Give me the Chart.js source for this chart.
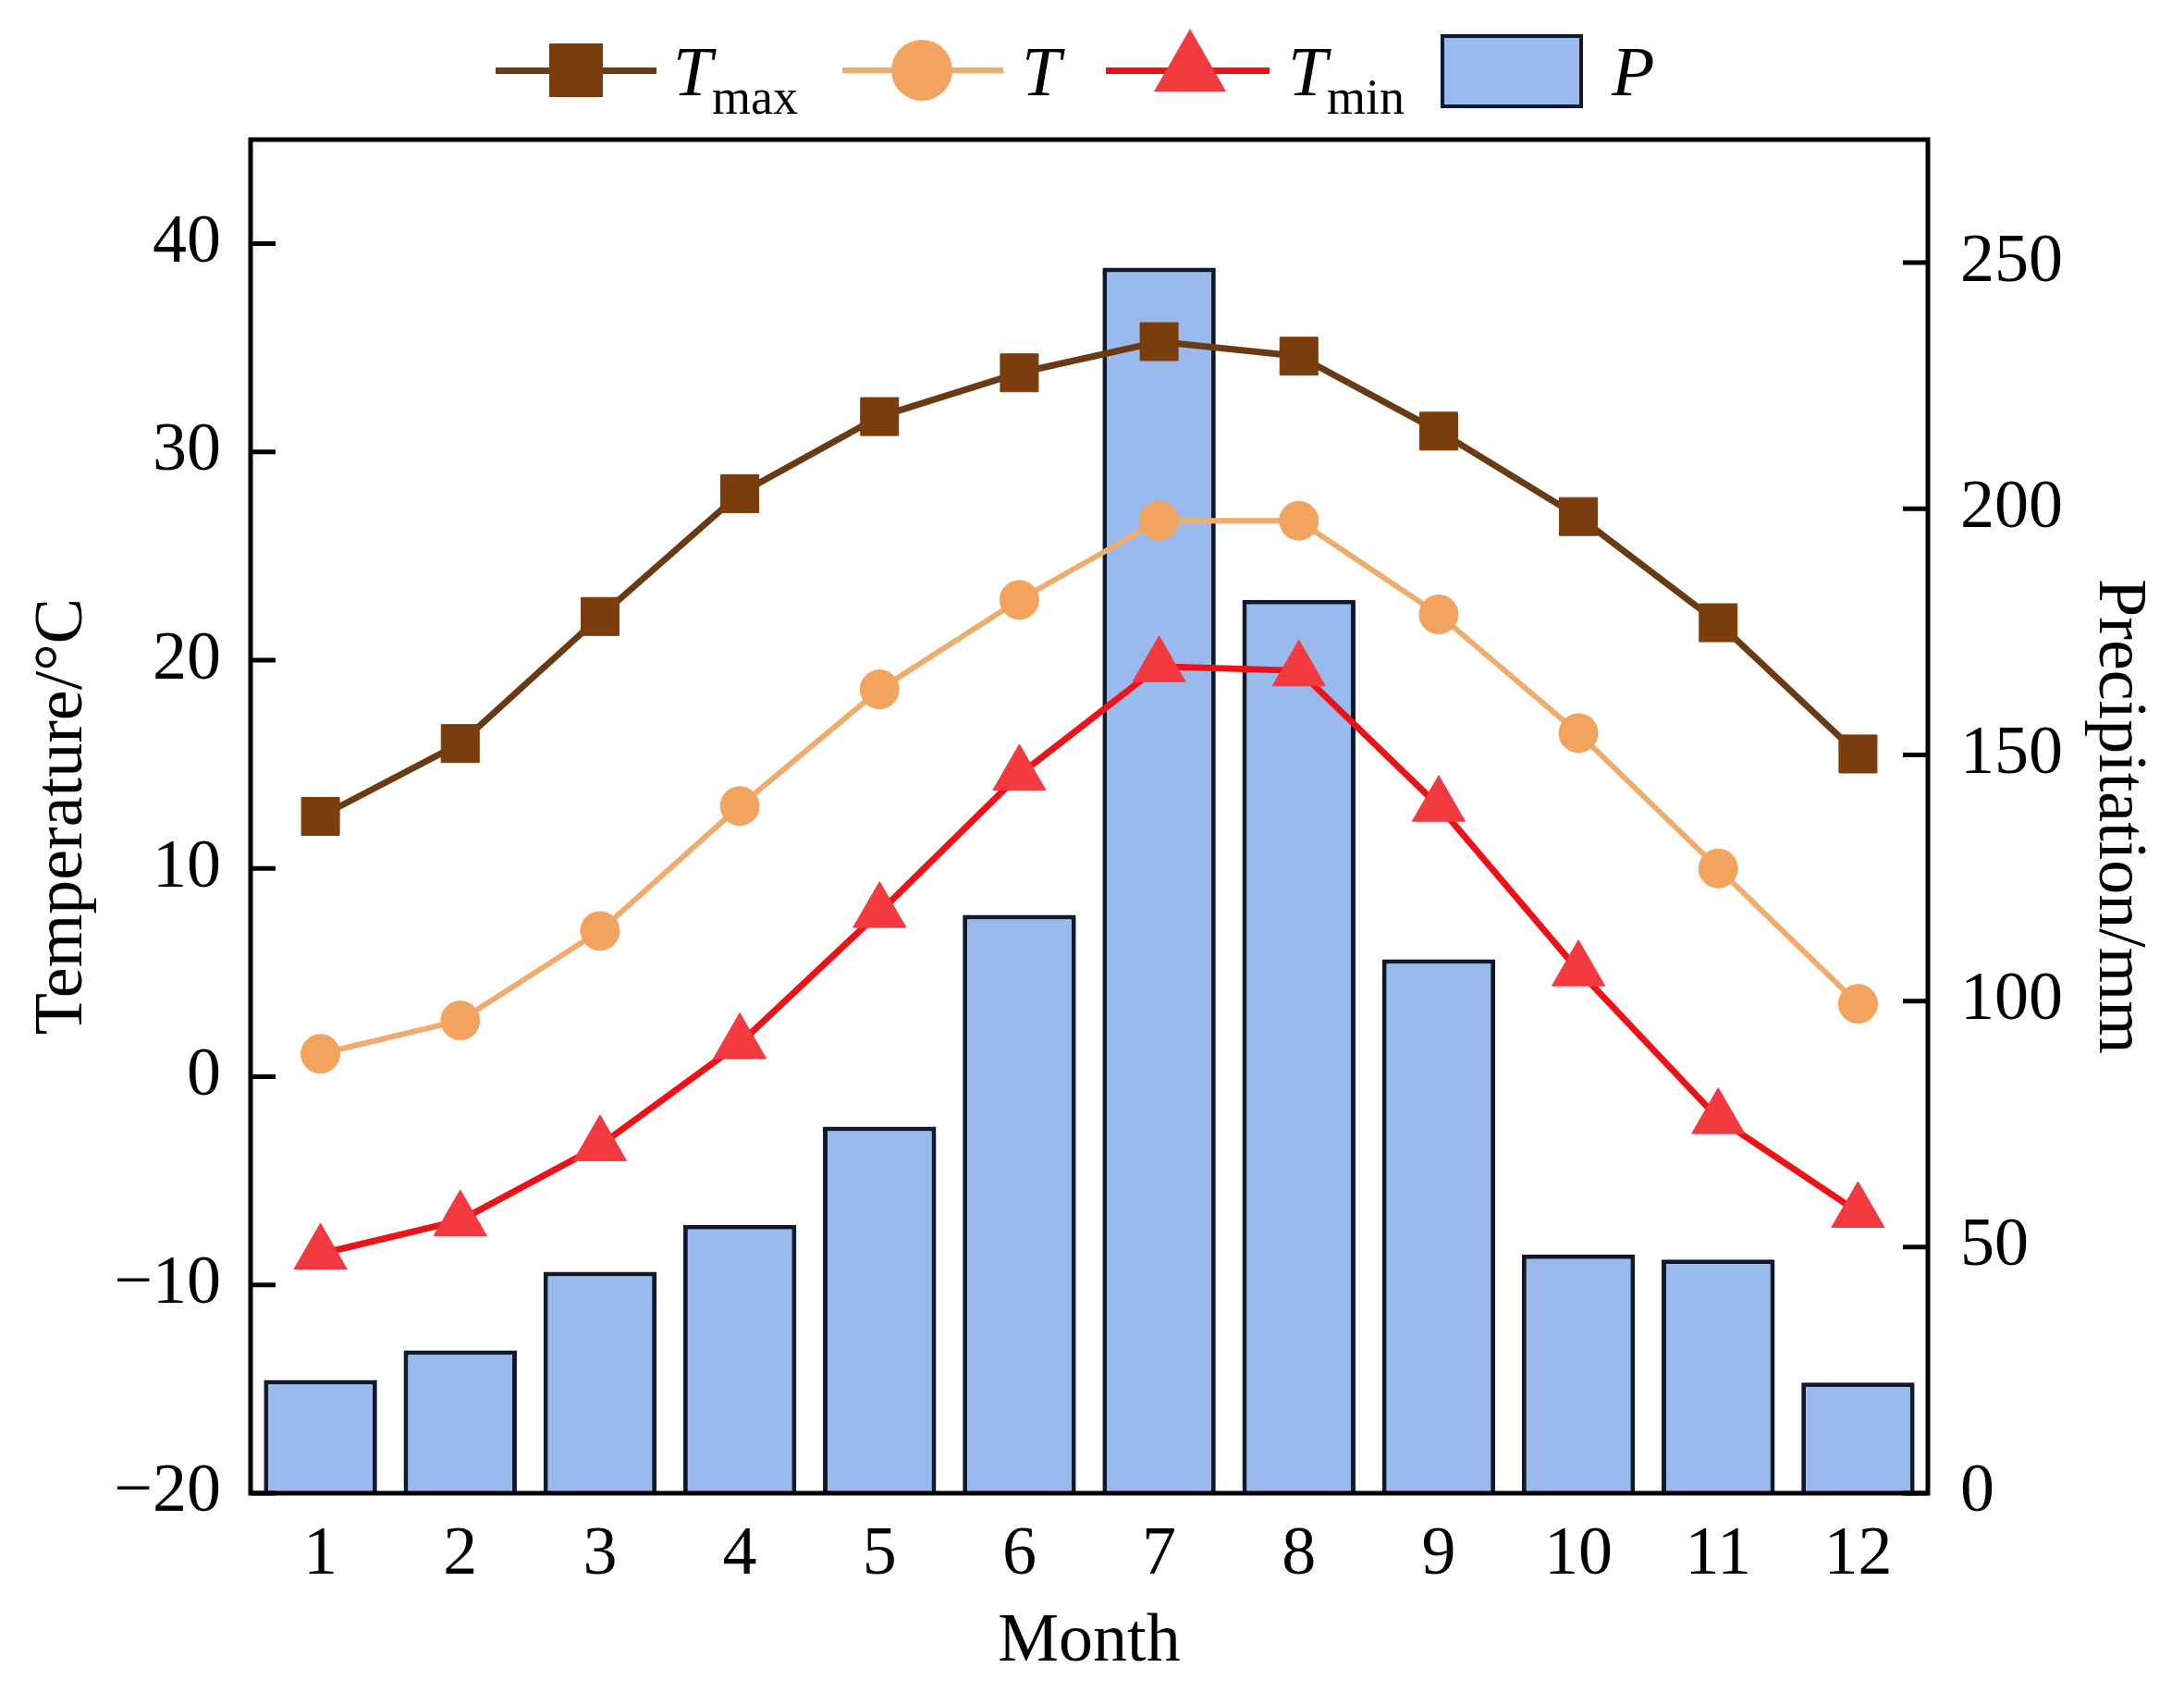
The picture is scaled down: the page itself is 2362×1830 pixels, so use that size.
<!DOCTYPE html>
<html><head><meta charset="utf-8">
<script src="https://cdn.jsdelivr.net/npm/chart.js@4.4.1/dist/chart.umd.min.js"></script>
<style>
html,body{margin:0;padding:0;background:#fff;}
#wrap{position:relative;width:2362px;height:1830px;background:#fff;}
#legend{position:absolute;left:0;top:0;width:2362px;height:150px;font-family:'Liberation Serif','Times New Roman',serif;color:#000;}
.lg{position:absolute;box-sizing:border-box;}
.txt{position:absolute;white-space:nowrap;line-height:1;}
</style></head><body>
<div id="wrap"><canvas id="c" width="2362" height="1830"></canvas><div id="legend"></div></div>
<script>
// ---- data ----
const months = ['1','2','3','4','5','6','7','8','9','10','11','12'];
const tmax   = [12.5, 16.0, 22.1, 28.0, 31.7, 33.8, 35.3, 34.6, 31.0, 26.9, 21.8, 15.5];
const tmean  = [1.1, 2.7, 7.0, 13.0, 18.6, 22.9, 26.7, 26.7, 22.2, 16.5, 10.0, 3.5];
const tmin   = [-8.5, -6.9, -3.3, 1.6, 7.9, 14.5, 19.7, 19.5, 13.0, 5.1, -2.0, -6.5];
const precip = [23, 29, 45, 54.5, 74.5, 117.5, 249, 181.5, 108.5, 48.5, 47.5, 22.5];
const tempTicks = [-20, -10, 0, 10, 20, 30, 40];
const precipTicks = [0, 50, 100, 150, 200, 250];

const FONT = "'Liberation Serif','Times New Roman',serif";
const C_TMAX_LINE = '#6A3A12', C_TMAX = '#7A3D0B';
const C_T_LINE = '#F0AC6C', C_T = '#F2A35E';
const C_TMIN_LINE = '#EE1218', C_TMIN = '#F23A40';
const C_BAR = '#9ABAEE', C_BAR_BORDER = '#0F1A2E';

Chart.defaults.font.family = FONT;
Chart.defaults.color = '#000';

const frame = {
  id: 'frame',
  afterDatasetsDraw(chart) {
    const {ctx, chartArea: a, scales} = chart;
    ctx.save();
    ctx.strokeStyle = '#000';
    ctx.lineWidth = 5;
    ctx.lineCap = 'butt';
    const tl = 27;
    ctx.beginPath();
    scales.y.ticks.forEach(t => {
      const p = scales.y.getPixelForValue(t.value);
      ctx.moveTo(a.left, p); ctx.lineTo(a.left + tl, p);
    });
    scales.y1.ticks.forEach(t => {
      const p = scales.y1.getPixelForValue(t.value);
      ctx.moveTo(a.right, p); ctx.lineTo(a.right - tl, p);
    });
    ctx.stroke();
    ctx.strokeRect(a.left, a.top, a.right - a.left, a.bottom - a.top);
    ctx.restore();
  }
};

const minus = v => String(v).replace('-', '\u2212');

new Chart(document.getElementById('c'), {
  type: 'bar',
  data: {
    labels: months,
    datasets: [
      {type:'line', label:'Tmax', data:tmax, yAxisID:'y', borderColor:C_TMAX_LINE, borderWidth:7,
       pointStyle:'rect', pointRadius:29, pointBackgroundColor:C_TMAX, pointBorderColor:C_TMAX, pointBorderWidth:1, tension:0, order:1},
      {type:'line', label:'T', data:tmean, yAxisID:'y', borderColor:C_T_LINE, borderWidth:6,
       pointStyle:'circle', pointRadius:21, pointBackgroundColor:C_T, pointBorderColor:C_T, pointBorderWidth:1, tension:0, order:2},
      {type:'line', label:'Tmin', data:tmin, yAxisID:'y', borderColor:C_TMIN_LINE, borderWidth:7,
       pointStyle:'triangle', pointRadius:33, pointBackgroundColor:C_TMIN, pointBorderColor:C_TMIN, pointBorderWidth:1, tension:0, order:3},
      {type:'bar', label:'P', data:precip, yAxisID:'y1', backgroundColor:C_BAR, borderColor:C_BAR_BORDER,
       borderWidth:5, barPercentage:0.81, categoryPercentage:1, order:10}
    ]
  },
  options: {
    responsive:false, devicePixelRatio:1, animation:false,
    layout:{padding:{top:151,left:0,right:0,bottom:0}},
    plugins:{legend:{display:false}, tooltip:{enabled:false}},
    scales: {
      x: {
        position:'bottom', offset:true,
        grid:{display:false, drawTicks:false}, border:{display:false},
        ticks:{padding:23, font:{size:74}, maxRotation:0},
        title:{display:true, text:'Month', font:{size:74}, padding:{top:0,bottom:9}},
        afterFit(s){ s.height = 215; }
      },
      y: {
        position:'left', min:-20, max:45,
        afterBuildTicks(s){ s.ticks = tempTicks.map(v => ({value:v})); },
        grid:{display:false, drawTicks:false}, border:{display:false},
        ticks:{padding:32, font:{size:74}, callback:v => minus(v)},
        title:{display:true, text:'Temperature/°C', font:{size:74}, padding:{top:24,bottom:0}},
        afterFit(s){ s.width = 271; }
      },
      y1: {
        position:'right', min:0, max:275,
        afterBuildTicks(s){ s.ticks = precipTicks.map(v => ({value:v})); },
        grid:{display:false, drawTicks:false, drawOnChartArea:false}, border:{display:false},
        ticks:{padding:35, font:{size:74}},
        title:{display:true, text:'Precipitation/mm', font:{size:74}, padding:{top:27,bottom:0}},
        afterFit(s){ s.width = 277; }
      }
    }
  },
  plugins:[frame]
});

// ---- HTML legend ----
const lg = document.getElementById('legend');
function box(l, t, w, h, css) {
  const d = document.createElement('div');
  d.className = 'lg';
  d.style.cssText = `left:${l}px;top:${t}px;width:${w}px;height:${h}px;` + css;
  lg.appendChild(d);
  return d;
}
function text(l, baseline, size, str, italic) {
  const s = document.createElement('span');
  s.className = 'txt';
  s.style.fontSize = size + 'px';
  s.style.fontStyle = italic ? 'italic' : 'normal';
  s.style.left = l + 'px';
  s.style.top = (baseline - Math.round(0.8375 * size)) + 'px';
  s.textContent = str;
  lg.appendChild(s);
}
const LY = 76;
// Tmax
box(536, LY - 3.5, 174, 7, `background:${C_TMAX_LINE};`);
box(594, LY - 29, 58, 58, `background:${C_TMAX};`);
text(728, 103, 76, 'T', true); text(770, 123, 54, 'max', false);
// T
box(911, LY - 3, 174, 6, `background:${C_T_LINE};`);
box(964, LY - 33, 66, 66, `background:${C_T};border-radius:50%;`);
text(1105, 103, 76, 'T', true);
// Tmin
box(1196, LY - 3.5, 177, 7, `background:${C_TMIN_LINE};`);
box(1248, 31, 78, 68, `background:${C_TMIN};clip-path:polygon(50% 0,100% 100%,0 100%);`);
text(1393, 103, 76, 'T', true); text(1435, 123, 54, 'min', false);
// P
box(1558, 37, 154, 80, `background:${C_BAR};border:4px solid ${C_BAR_BORDER};`);
text(1743, 103, 76, 'P', true);
</script>
</body></html>
